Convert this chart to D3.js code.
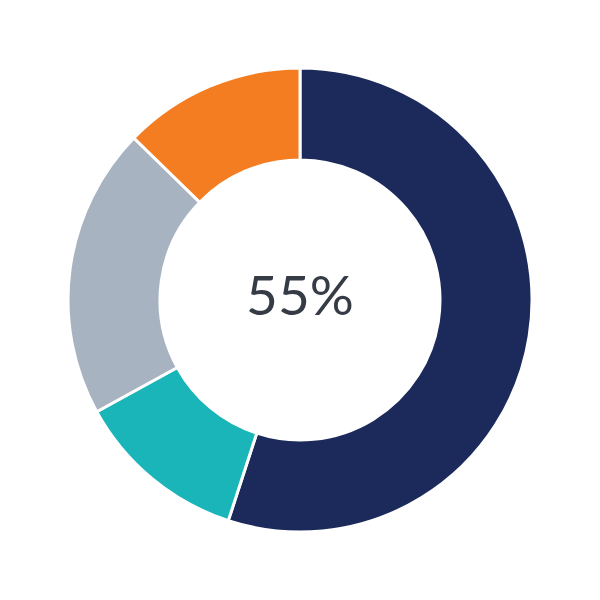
<!DOCTYPE html>
<html>
<head>
<meta charset="utf-8">
<script src="https://cdn.jsdelivr.net/npm/d3@7"></script>
<style>
  body { margin: 0; background: #fff; }
</style>
</head>
<body>
<div id="chart"></div>
<script>
// valores del donut, en orden horario desde arriba
const categorias = ['A', 'B', 'C', 'D'];
const valores = [55, 12, 20.3, 12.7];
const colores = ['#1b2a5a', '#1ab5b9', '#a8b3c1', '#f37d20'];
const etiquetaCentro = '55%';

const ancho = 600;
const alto = 600;
const radioExt = 232;
const radioInt = 140;

const data = categorias.map((c, i) => ({ cat: c, valor: valores[i] }));

const svg = d3.select('#chart')
  .append('svg')
  .attr('width', ancho)
  .attr('height', alto)
  .append('g')
  .attr('transform', `translate(${ancho / 2},${alto / 2})`);

const color = d3.scaleOrdinal()
  .domain(categorias)
  .range(colores);

const pie = d3.pie()
  .value(d => d.valor)
  .sort(null);

const arc = d3.arc()
  .innerRadius(radioInt)
  .outerRadius(radioExt);

svg.selectAll('.slice')
  .data(pie(data))
  .enter().append('path')
  .attr('class', 'slice')
  .attr('d', arc)
  .attr('fill', d => color(d.data.cat))
  .attr('stroke', '#fff')
  .attr('stroke-width', 3);

// texto del centro
svg.append('text')
  .attr('x', 0)
  .attr('y', 0)
  .attr('dy', '0.28em')
  .attr('text-anchor', 'middle')
  .style('font-family', 'Lato, sans-serif')
  .style('font-size', '55px')
  .style('fill', '#363c46')
  .text(etiquetaCentro);
</script>
</body>
</html>
